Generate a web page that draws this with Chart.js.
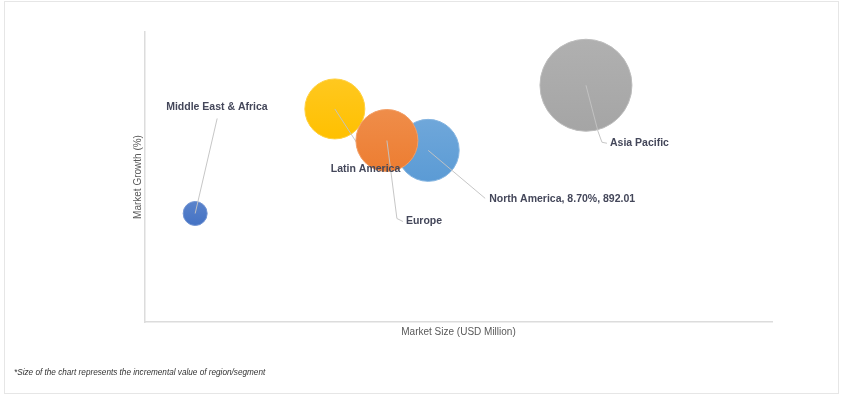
<!DOCTYPE html>
<html>
<head>
<meta charset="utf-8">
<script src="https://cdn.jsdelivr.net/npm/chart.js@4"></script>
<style>
  html, body { margin: 0; padding: 0; background: #fff; }
  #wrap { position: relative; width: 842px; height: 397px; }
  #bubbleChart { display: block; }
  #frame { position: absolute; left: 4px; top: 1px; width: 835px; height: 393px; border: 1px solid #e6e6e6; box-sizing: border-box; pointer-events: none; }
  #note { position: absolute; left: 14px; top: 368px; font: italic 8.2px "Liberation Sans", sans-serif; color: #333; white-space: nowrap; }
</style>
</head>
<body>
<div id="wrap">
  <canvas id="bubbleChart" width="842" height="397"></canvas>
  <div id="frame"></div>
  <div id="note">*Size of the chart represents the incremental value of region/segment</div>
</div>
<script>
// 지역별 데이터 (뒤에 있는 항목이 위에 그려짐)
const regions = ["Asia Pacific", "Middle East & Africa", "Latin America", "North America", "Europe"];
const marketSize = [1389, 158, 598, 892.01, 762];   // x : USD Million
const marketGrowth = [12.0, 5.5, 10.8, 8.7, 9.2];   // y : %
const bubbleSize = [46, 12, 30, 31, 31];            // 증분 가치 -> 반지름
const pointLabels = ["Asia Pacific", "Middle East & Africa", "Latin America", "North America, 8.70%, 892.01", "Europe"];
const colors = ["#a5a5a5", "#4472c4", "#ffc000", "#5b9bd5", "#ed7d31"];

// 라벨 위치 (버블 중심 기준 오프셋)
const labelLayout = [
  { text: [24, 58], line: [[12, 46], [16, 57], [21, 58]] },
  { text: [-29, -106], line: [[22, -95]] },
  { text: [-4, 60], line: [[35, 54]] },
  { text: [61, 49], line: [[57, 48]] },
  { text: [19, 81], line: [[10, 78], [16, 81]] },
];

function lighten(hex, amt) {
  const n = parseInt(hex.slice(1), 16);
  const ch = [(n >> 16) & 255, (n >> 8) & 255, n & 255].map(v => Math.round(v + (255 - v) * amt));
  return "rgb(" + ch.join(",") + ")";
}

const leaderPlugin = {
  id: "leaders",
  afterDatasetDraw(chart, args) {
    const pt = args.meta.data[0];
    if (!pt) return;
    const ctx = chart.ctx;
    ctx.save();
    ctx.strokeStyle = "rgba(195,195,195,0.95)";
    ctx.lineWidth = 1;
    ctx.beginPath();
    ctx.moveTo(pt.x, pt.y);
    labelLayout[args.index].line.forEach(([dx, dy]) => ctx.lineTo(pt.x + dx, pt.y + dy));
    ctx.stroke();
    ctx.restore();
  },
  afterDatasetsDraw(chart) {
    const ctx = chart.ctx;
    ctx.save();
    ctx.font = "bold 10.5px 'Liberation Sans', sans-serif";
    ctx.fillStyle = "#44475a";
    ctx.textBaseline = "middle";
    chart.data.datasets.forEach((ds, i) => {
      const pt = chart.getDatasetMeta(i).data[0];
      const [dx, dy] = labelLayout[i].text;
      ctx.fillText(pointLabels[i], pt.x + dx, pt.y + dy);
    });
    ctx.restore();
  },
};

const axisTitleFont = { size: 10, family: "'Liberation Sans', sans-serif" };

const ctx = document.getElementById("bubbleChart").getContext("2d");
let bubbleChart = new Chart(ctx, {
  type: "bubble",
  data: {
    datasets: regions.map((name, i) => ({
      label: name,
      order: regions.length - i,
      data: [{ x: marketSize[i], y: marketGrowth[i], r: bubbleSize[i] }],
      borderWidth: 1,
      borderColor: lighten(colors[i], 0.25),
      backgroundColor: (c) => {
        const chart = c.chart;
        if (!chart.chartArea || !c.raw) return colors[i];
        const y = chart.scales.y.getPixelForValue(c.raw.y);
        const g = chart.ctx.createLinearGradient(0, y - c.raw.r, 0, y + c.raw.r);
        g.addColorStop(0, lighten(colors[i], 0.12));
        g.addColorStop(1, colors[i]);
        return g;
      },
    })),
  },
  options: {
    responsive: false,
    animation: false,
    layout: { autoPadding: false, padding: { left: 125, right: 70, top: 32, bottom: 55 } },
    scales: {
      x: {
        min: 0,
        max: 1975,
        ticks: { display: false },
        grid: { display: false, drawTicks: false },
        border: { color: "#dcdcdc", width: 1.5 },
        title: { display: true, text: "Market Size (USD Million)", color: "#595959", font: axisTitleFont },
      },
      y: {
        min: 0,
        max: 14.7,
        ticks: { display: false },
        grid: { display: false, drawTicks: false },
        border: { color: "#dcdcdc", width: 1.5 },
        title: { display: true, text: "Market Growth (%)", color: "#595959", font: axisTitleFont, padding: { top: 7, bottom: 1 } },
      },
    },
    plugins: {
      legend: { display: false },
    },
  },
  plugins: [leaderPlugin],
});
</script>
</body>
</html>
